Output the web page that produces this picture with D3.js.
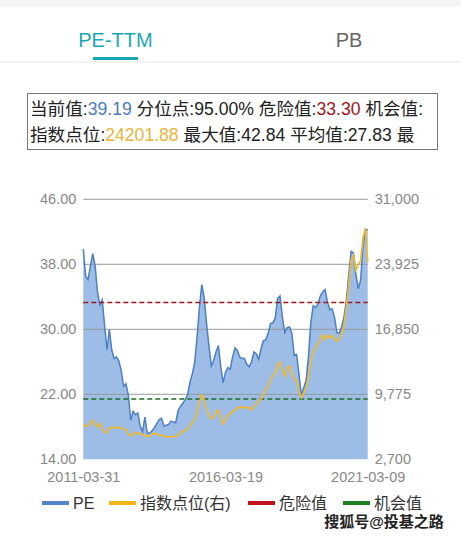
<!DOCTYPE html>
<html>
<head>
    <meta charset="utf-8">
    <title>PE-TTM</title>
    <script src="https://d3js.org/d3.v7.min.js"></script>
    <style>
        body { margin: 0; background: #fff; font-family: "Liberation Sans", "Noto Sans CJK SC", sans-serif; }
        svg text { font-family: "Liberation Sans", "Noto Sans CJK SC", sans-serif; }
    </style>
</head>
<body>
    <svg id="chart" width="461" height="537"></svg>

    <script type="text/javascript">
        // monthly PE-TTM, 2011-03-31 .. 2021-03-09
        var peValues = [
            39.9, 36.5, 36.1, 37.8, 39.3, 37.8, 34.5, 33.0, 33.6, 30.4,
            27.5, 30.0, 27.45, 26.4, 26.6, 26.1, 24.9, 23.0, 23.3, 21.9,
            18.8, 19.9, 19.5, 19.7, 18.1, 17.4, 19.2, 17.2, 17.2, 17.5,
            17.9, 18.4, 18.9, 19.05, 18.1, 18.2, 18.3, 18.7, 18.6, 18.5,
            20.0, 20.5, 20.9, 21.35, 21.9, 23.5, 24.5, 25.9, 29.0, 32.7,
            35.5, 33.9, 30.7, 28.0, 25.5, 26.2, 27.2, 28.0, 25.4, 23.4,
            24.7, 25.3, 25.1, 26.6, 27.7, 27.4, 26.6, 26.4, 26.4, 25.7,
            25.4, 26.0, 27.2, 27.0, 26.3, 27.6, 28.6, 28.7, 29.5, 30.7,
            30.8, 31.4, 33.8, 34.1, 31.5, 29.6, 30.2, 30.3, 29.5, 26.8,
            26.9, 24.5, 21.9, 22.8, 23.7, 26.6, 30.8, 32.9, 32.7, 33.1,
            34.1, 34.6, 34.9, 33.4, 32.4, 32.5, 31.5, 29.6, 29.5, 30.3,
            31.5, 33.6, 36.7, 39.6, 39.4, 36.8, 35.0, 36.0, 40.2, 42.2,
            42.3
        ];
        var indexValues = [
            6430, 6350, 6260, 6600, 6950, 6450, 6200, 6600, 5950, 5640,
            5600, 6150, 6150, 6100, 6240, 6150, 6080, 6000, 5920, 5500,
            5230, 5510, 5530, 5530, 5520, 5390, 5280, 5200, 5250, 5440,
            5500, 5460, 5380, 5310, 5230, 5170, 5160, 5160, 5160, 5160,
            5300, 5560, 5740, 5830, 6000, 6350, 6720, 7100, 7700, 8900,
            9700, 9200, 8150, 7450, 7100, 7300, 7900, 8060, 7200, 6550,
            7050, 7450, 7650, 7900, 8050, 8200, 8400, 8380, 8270, 8340,
            8350, 8090, 8410, 8740, 9000, 9250, 9780, 10320, 10570, 11380,
            11800, 12100, 13000, 13300, 12300, 11750, 12600, 12850, 12060, 11400,
            11270, 10100, 9400, 9950, 10430, 11700, 13200, 14450, 14800, 15200,
            15700, 16250, 15750, 16200, 15900, 16200, 15800, 15550, 15800, 16350,
            17300, 19300, 21700, 24400, 24900, 23300, 23900, 24300, 26750, 27850,
            24202
        ];
        var dangerValue = 33.30;
        var chanceValue = 21.42;

        var xTickLabels = ["2011-03-31", "2016-03-19", "2021-03-09"];
        var leftTicks = [14, 22, 30, 38, 46];
        var rightTicks = [2700, 9775, 16850, 23925, 31000];

        var tabs = ["PE-TTM", "PB"];
        var infoLine1 = [["当前值:", "#222"], ["39.19", "#4a7ab8"], [" 分位点:95.00% 危险值:", "#222"], ["33.30", "#a3161a"], [" 机会值:", "#222"]];
        var infoLine2 = [["指数点位:", "#222"], ["24201.88", "#e8b53a"], [" 最大值:42.84 平均值:27.83 最", "#222"]];

        var legendItems = [
            { name: "PE", color: "#5585c8" },
            { name: "指数点位(右)", color: "#f4b61c" },
            { name: "危险值", color: "#c0141a" },
            { name: "机会值", color: "#1e7d1e" }
        ];

        var svg = d3.select("#chart");

        // ---- tabs ----
        svg.append("rect").attr("x", 0).attr("y", 0).attr("width", 461).attr("height", 7).attr("fill", "#f5f5f5");
        svg.append("rect").attr("x", 0).attr("y", 61).attr("width", 461).attr("height", 2).attr("fill", "#f2f2f2");
        svg.selectAll("text.tab")
            .data(tabs)
            .enter()
            .append("text")
            .attr("class", "tab")
            .attr("x", function(d, i) { return i == 0 ? 115.5 : 349; })
            .attr("y", 47)
            .attr("text-anchor", "middle")
            .style("font-size", "20px")
            .style("fill", function(d, i) { return i == 0 ? "#1aa6b4" : "#666"; })
            .text(function(d) { return d; });
        svg.append("rect").attr("x", 93).attr("y", 57).attr("width", 45).attr("height", 3).attr("fill", "#1aa6b4");

        // ---- info box ----
        svg.append("defs").append("clipPath").attr("id", "boxClip")
            .append("rect").attr("x", 28).attr("y", 94).attr("width", 409).attr("height", 55);
        svg.append("rect")
            .attr("x", 27.5).attr("y", 93.5).attr("width", 410).attr("height", 56)
            .attr("fill", "#fff").attr("stroke", "#777").attr("stroke-width", 1);
        var info = svg.append("g").attr("clip-path", "url(#boxClip)");
        [infoLine1, infoLine2].forEach(function(line, li) {
            var t = info.append("text")
                .attr("x", 30)
                .attr("y", 115 + li * 26)
                .style("font-size", "17.6px")
                .attr("xml:space", "preserve");
            line.forEach(function(p) {
                t.append("tspan").style("fill", p[1]).text(p[0]);
            });
        });

        // ---- chart ----
        var margin = { left: 83.3, right: 93.3, top: 199.3, bottom: 77.7 };
        var plotW = 461 - margin.left - margin.right;
        var plotH = 537 - margin.top - margin.bottom;

        var x = d3.scaleLinear().domain([0, peValues.length - 1]).range([margin.left, margin.left + plotW]);
        var yLeft = d3.scaleLinear().domain([14, 46]).range([margin.top + plotH, margin.top]);
        var yRight = d3.scaleLinear().domain([2700, 31000]).range([margin.top + plotH, margin.top]);

        var g = svg.append("g");

        // PE area
        var area = d3.area()
            .x(function(d, i) { return x(i); })
            .y0(yLeft(14))
            .y1(function(d) { return yLeft(d); });
        g.append("path")
            .datum(peValues)
            .attr("d", area)
            .attr("fill", "#9dbde6");

        // grid lines
        g.selectAll("line.grid")
            .data(leftTicks.slice(1))
            .enter()
            .append("line")
            .attr("class", "grid")
            .attr("x1", margin.left).attr("x2", margin.left + plotW)
            .attr("y1", function(d) { return yLeft(d); })
            .attr("y2", function(d) { return yLeft(d); })
            .attr("stroke", "#999")
            .attr("stroke-width", 1);

        // PE line
        var peLine = d3.line()
            .x(function(d, i) { return x(i); })
            .y(function(d) { return yLeft(d); });
        g.append("path")
            .datum(peValues)
            .attr("d", peLine)
            .attr("fill", "none")
            .attr("stroke", "#4d7fc4")
            .attr("stroke-width", 1.5);

        // danger / chance lines
        [[dangerValue, "#a3161a"], [chanceValue, "#1e6b1e"]].forEach(function(d) {
            g.append("line")
                .attr("x1", margin.left).attr("x2", margin.left + plotW)
                .attr("y1", yLeft(d[0])).attr("y2", yLeft(d[0]))
                .attr("stroke", d[1])
                .attr("stroke-width", 1.5)
                .attr("stroke-dasharray", "5,3");
        });

        // index line (right axis)
        var idxLine = d3.line()
            .x(function(d, i) { return x(i); })
            .y(function(d) { return yRight(d); });
        g.append("path")
            .datum(indexValues)
            .attr("d", idxLine)
            .attr("fill", "none")
            .attr("stroke", "#f0b92e")
            .attr("stroke-width", 1.7);

        // axes
        var leftAxis = d3.axisLeft(yLeft)
            .tickValues(leftTicks)
            .tickSize(0)
            .tickPadding(7)
            .tickFormat(d3.format(".2f"));
        var rightAxis = d3.axisRight(yRight)
            .tickValues(rightTicks)
            .tickSize(0)
            .tickPadding(7)
            .tickFormat(d3.format(","));
        var xAxis = d3.axisBottom(x)
            .tickValues([0, (peValues.length - 1) / 2, peValues.length - 1])
            .tickSize(0)
            .tickPadding(12)
            .tickFormat(function(d, i) { return xTickLabels[i]; });

        [svg.append("g").attr("transform", "translate(" + margin.left + ",0)").call(leftAxis),
         svg.append("g").attr("transform", "translate(" + (margin.left + plotW) + ",0)").call(rightAxis),
         svg.append("g").attr("transform", "translate(0," + (margin.top + plotH) + ")").call(xAxis)
        ].forEach(function(ax) {
            ax.select(".domain").remove();
            ax.selectAll("text")
                .style("font-size", "14.5px")
                .style("fill", "#888")
                .style("font-family", "'Liberation Sans', sans-serif");
        });

        // legend
        var legendX = [42, 109, 248, 343];
        var legend = svg.selectAll("g.legend")
            .data(legendItems)
            .enter()
            .append("g")
            .attr("class", "legend")
            .attr("transform", function(d, i) { return "translate(" + legendX[i] + ",503)"; });
        legend.append("rect")
            .attr("x", 0).attr("y", -2)
            .attr("width", 27).attr("height", 4)
            .attr("fill", function(d) { return d.color; });
        legend.append("text")
            .attr("x", 31)
            .attr("y", 6)
            .style("font-size", "16px")
            .style("fill", "#333")
            .text(function(d) { return d.name; });

        // watermark
        svg.append("text")
            .attr("x", 384)
            .attr("y", 527)
            .attr("text-anchor", "middle")
            .style("font-size", "15px")
            .style("font-weight", "bold")
            .style("fill", "#222")
            .style("stroke", "#fff")
            .style("stroke-width", 2.5)
            .style("paint-order", "stroke")
            .text("搜狐号@投基之路");
    </script>
</body>
</html>
